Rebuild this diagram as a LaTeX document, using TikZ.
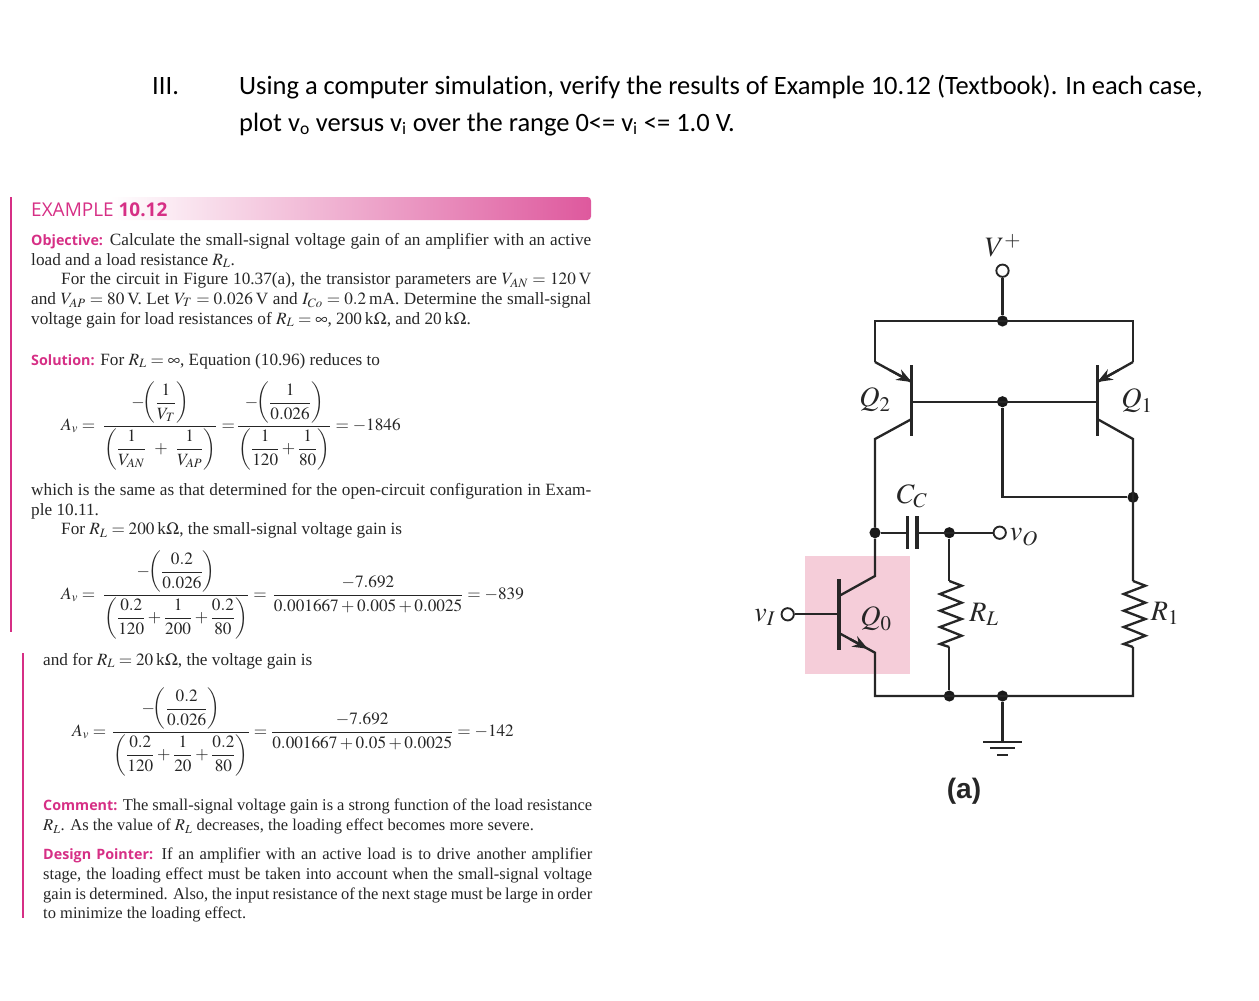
\documentclass[tikz,border=0pt]{standalone}
\usepackage{mathptmx}
\usepackage{amsmath}
\usepackage[no-math]{fontspec}
\setmainfont{Liberation Serif}
\newfontfamily\calibri[Ligatures=CommonOff]{Carlito}
\newfontfamily\headfont{Open Sans}
\newfontfamily\capfont{Liberation Sans}
\usetikzlibrary{arrows.meta,calc}
\definecolor{bookpink}{HTML}{D62F85}
\definecolor{boxpink}{HTML}{F5CDD9}
\newcommand{\head}[1]{{\headfont\fontsize{12.2}{16}\selectfont\bfseries\color{bookpink}#1}}
\newcommand{\lowsub}[1]{\raisebox{-3pt}{\fontsize{15}{16}\selectfont #1}\kern0.6pt\relax}
\begin{document}
\begin{tikzpicture}[
  x=0.03cm,y=-0.03cm,
  task/.style={anchor=base west,inner sep=0,font=\calibri\fontsize{22.6}{26}\selectfont},
  para/.style={anchor=north west,inner sep=0,align=justify,text=black!85,font=\fontsize{14.7}{16.8}\selectfont},
  note/.style={para,text width=549*0.03cm,font=\fontsize{14.1}{16.8}\selectfont},
  eqn/.style={anchor=west,inner sep=0,text=black!85,font=\fontsize{14.7}{16.8}\selectfont},
  sym/.style={inner sep=0,text=black!85,font=\fontsize{24}{28}\selectfont},
  wire/.style={line width=2pt,draw=black!85},
  bar/.style={line width=3pt,draw=black!85},
  dot/.style={circle,fill=black!90,inner sep=0,minimum size=9.5pt},
  term/.style={circle,draw=black!85,line width=1.6pt,fill=white,inner sep=0,minimum size=10.5pt},
  tip/.style={line width=2pt,draw=black!85,-{Stealth[length=13pt,width=10pt]}}
  ]
  \useasboundingbox (0,0) rectangle (1259,1000);
  % 
  % Task text
  % 
  \node(num)  [task] at (152,94) {III.};
  \node(task1)[task] at (239,94) {Using a computer simulation, verify the results of Example 10.12 (Textbook). In each case,};
  \node(task2)[task] at (239,131) {plot v\lowsub{o} versus v\lowsub{i} over the range 0<= v\lowsub{i} <= 1.0 V.};
  % 
  % Book panel
  % 
  \fill[bookpink] (10,197) rectangle (12,632);
  \fill[bookpink] (22,653) rectangle (24,918);
  \shade[left color=white,middle color=bookpink!30,right color=bookpink!80,rounded corners=3pt,shading angle=90] (110,197) rectangle (591,220);
  \node(title)[anchor=base west,inner sep=0,text=bookpink,font=\headfont\fontsize{16.2}{18}\selectfont] at (31,216) {EXAMPLE \textbf{10.12}};
  \node(objective)[para,text width=560*0.03cm] at (31,233) {\head{Objective:} Calculate the small-signal voltage gain of an amplifier with an active\linebreak load and a load resistance $R_L$.\par
    \hspace*{25.6pt}For the circuit in Figure 10.37(a), the transistor parameters are $V_{AN}=120$\,V\linebreak and $V_{AP}=80$\,V. Let $V_T=0.026$\,V and $I_{Co}=0.2$\,mA. Determine the small-signal\linebreak voltage gain for load resistances of $R_L=\infty$, 200\,k$\Omega$, and 20\,k$\Omega$.};
  \node(solution)[para,text width=560*0.03cm] at (31,353) {\head{Solution:} For $R_L=\infty$, Equation (10.96) reduces to};
  \node(eqa)[eqn] at (61,426) {$A_v=\;\dfrac{-\!\!\left(\dfrac{1}{V_T}\right)}{\left(\dfrac{1}{V_{AN}}\;\,+\;\,\dfrac{1}{V_{AP}}\right)}=\mskip-2mu\dfrac{-\!\!\left(\dfrac{1}{0.026}\right)}{\left(\dfrac{1}{120}+\dfrac{1}{80}\right)}=-1846$};
  \node(same)[para,text width=560*0.03cm] at (31,483) {which is the same as that determined for the open-circuit configuration in Exam-\linebreak ple 10.11.\par
    \hspace*{25.6pt}For $R_L=200$\,k$\Omega$, the small-signal voltage gain is};
  \node(eqb)[eqn] at (61,595) {$A_v=\;\dfrac{-\!\!\left(\dfrac{0.2}{0.026}\right)}{\left(\dfrac{0.2}{120}+\dfrac{1}{200}+\dfrac{0.2}{80}\right)}=\,\dfrac{-7.692}{0.001667+0.005+0.0025}=-839$};
  \node(andfor)[para,text width=549*0.03cm] at (43,653) {and for $R_L=20$\,k$\Omega$, the voltage gain is};
  \node(eqc)[eqn] at (72,732) {$A_v=\,\dfrac{-\!\!\left(\dfrac{0.2}{0.026}\right)}{\left(\dfrac{0.2}{120}+\dfrac{1}{20}+\dfrac{0.2}{80}\right)}=\dfrac{-7.692}{0.001667+0.05+0.0025}=-142$};
  \node(comment)[note] at (43,799) {\head{Comment:} The small-signal voltage gain is a strong function of the load resistance\linebreak $R_L$. As the value of $R_L$ decreases, the loading effect becomes more severe.};
  \node(design)[note] at (43,848) {\head{Design Pointer:} If an amplifier with an active load is to drive another amplifier\linebreak stage, the loading effect must be taken into account when the small-signal voltage\linebreak gain is determined. Also, the input resistance of the next stage must be large in order\linebreak to minimize the loading effect.};
  % 
  % Circuit corners
  % 
  \fill[boxpink] (804.5,555.5) rectangle (910,673.5);
  \coordinate(tl) at (875,321);
  \coordinate(tr) at (1133,321);
  \coordinate(e2) at (875,362);
  \coordinate(e2b) at (911.7,382);
  \coordinate(c2b) at (911.7,419);
  \coordinate(c2) at (875,439);
  \coordinate(e1) at (1133,362);
  \coordinate(e1b) at (1097.3,382);
  \coordinate(c1b) at (1097.3,419);
  \coordinate(c1) at (1133,439);
  \coordinate(b2) at (911.7,401.7);
  \coordinate(b1) at (1097.3,401.7);
  \coordinate(c0) at (875,576);
  \coordinate(c0b) at (839,596);
  \coordinate(e0b) at (839,633);
  \coordinate(e0) at (875,652.7);
  \coordinate(b0) at (839,614.3);
  \coordinate(bl) at (875,696);
  \coordinate(br) at (1133,696);
  \coordinate(fb) at (1002.5,497.3);
  \coordinate(rlt) at (949.3,581);
  \coordinate(rlb) at (949.3,647);
  \coordinate(r1t) at (1133,581);
  \coordinate(r1b) at (1133,647);
  \coordinate(capl) at (907.7,532.7);
  \coordinate(capr) at (917,532.7);
  \coordinate(gnd) at (1002.5,741.7);
  % 
  % Nodes
  % 
  \node(vplus)[term] at (1002.5,270.7) {};
  \node(vo)   [term] at (999.7,532.7) {};
  \node(vi)   [term] at (787.7,614.3) {};
  \node(top)  [dot] at (1002.5,321) {};
  \node(base) [dot] at (1002.5,401.7) {};
  \node(right)[dot] at (1133,497.3) {};
  \node(left) [dot] at (875,532.7) {};
  \node(out)  [dot] at (949.3,532.7) {};
  \node(low)  [dot] at (949.3,696) {};
  \node(mid)  [dot] at (1002.5,696) {};
  % 
  % Wires
  % 
  \draw[wire] (vplus) -- (top);
  \draw[wire] (e2) -- (tl) -- (tr) -- (e1);
  \draw[wire] (e2) -- (e2b);
  \draw[wire] (e1) -- (e1b);
  \draw[wire] (b2) -- (b1);
  \draw[wire] (base) -- (fb) -- (right);
  \draw[wire] (c2b) -- (c2) -- (left) -- (c0) -- (c0b);
  \draw[wire] (c1b) -- (c1) -- (r1t);
  \draw[wire] (left) -- (capl);
  \draw[wire] (capr) -- (vo);
  \draw[wire] (out) -- (rlt);
  \draw[wire] (rlb) -- (low);
  \draw[wire] (vi) -- (b0);
  \draw[wire] (e0b) -- (e0) -- (bl) -- (br) -- (r1b);
  \draw[wire] (mid) -- (gnd);
  % emitter arrows
  \draw[tip] ($(e2)!0.4!(e2b)$) -- (e2b);
  \draw[tip] ($(e1)!0.4!(e1b)$) -- (e1b);
  \draw[tip] ($(e0b)!0.3!(e0)$) -- ($(e0b)!0.8!(e0)$);
  % transistor bars
  \draw[bar] (911.7,365) -- (911.7,436);
  \draw[bar] (1097.3,365) -- (1097.3,436);
  \draw[bar] (839,579) -- (839,649.7);
  % capacitor
  \draw[bar] (capl) ++(0,-16.7) -- ++(0,33.4);
  \draw[bar] (capr) ++(0,-16.7) -- ++(0,33.4);
  % resistors
  \foreach \rtop/\rbot/\rx in {rlt/rlb/949.3,r1t/r1b/1133}{
    \draw[wire,line join=miter] (\rtop) -- (\rx+12.4,585.7) -- (\rx-9.3,594) -- (\rx+12.4,602.7) -- (\rx-9.3,610.7) -- (\rx+12.4,619) -- (\rx-9.3,627) -- (\rx+12.4,635.7) -- (\rx-9.3,644) -- (\rbot);
  }
  % ground
  \draw[wire] (983.3,741.7) -- (1021.7,741.7);
  \draw[wire] (990,748.3) -- (1015,748.3);
  \draw[wire] (997,755) -- (1008,755);
  % 
  % Labels
  % 
  \node(vpluslab)[sym] at (1003,246) {$V^{+}$};
  \node(q2lab)[sym] at (875,400) {$Q_2$};
  \node(q1lab)[sym] at (1137,401) {$Q_1$};
  \node(cclab)[sym] at (912,496) {$C_C$};
  \node(volab)[sym] at (1024,537) {$v_O$};
  \node(vilab)[sym] at (765,617) {$v_I$};
  \node(q0lab)[sym] at (876,619) {$Q_0$};
  \node(rllab)[sym] at (984,614) {$R_L$};
  \node(r1lab)[sym] at (1165,613) {$R_1$};
  \node(figlab)[inner sep=0,text=black!85,font=\capfont\bfseries\fontsize{24}{28}\selectfont] at (964,791) {(a)};
\end{tikzpicture}
\end{document}
